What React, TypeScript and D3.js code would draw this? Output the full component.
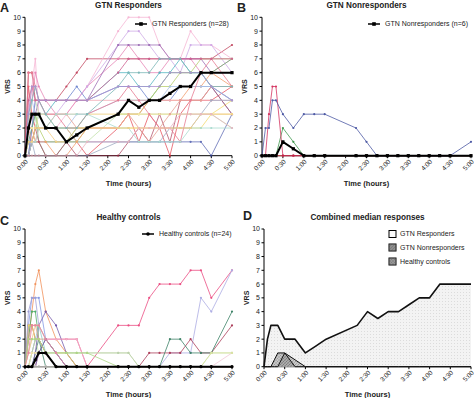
import React from "react";
import * as d3 from "d3";

/* sampling times in minutes */
const times = [0, 5, 10, 15, 20, 30, 45, 60, 75, 90, 135, 150, 165, 180, 195, 210, 225, 240, 255, 270, 300];
const tickMinutes = [0, 30, 60, 90, 120, 150, 180, 210, 240, 270, 300];
const tickLabels = ["0:00", "0:30", "1:00", "1:30", "2:00", "2:30", "3:00", "3:30", "4:00", "4:30", "5:00"];
const vrsTicks = [0, 1, 2, 3, 4, 5, 6, 7, 8, 9, 10];

/* A - GTN responders, one row per patient */
const responderColors = [
  "#b01030", "#e02030", "#f4a0c8", "#e060a0", "#c090e0", "#8040a0", "#20a0b0",
  "#4060c0", "#3040a0", "#f0d040", "#f0b080", "#b0d890", "#40a050", "#a0c040",
  "#f08040", "#a02040", "#90b0e0", "#f090a0", "#f0e890", "#e08070", "#8090b0",
  "#e05070", "#c03070", "#90d0c0", "#f0c060", "#e0a0b0", "#50a0a0", "#9070c0",
];
const responders = [
  [0, 6, 6, 4, 4, 4, 4, 5, 6, 7, 7, 7, 7, 7, 7, 7, 7, 7, 7, 7, 8],
  [0, 5, 3, 2, 2, 2, 2, 2, 1, 0, 2, 3, 1, 3, 2, 0, 3, 4, 4, 4, 5],
  [0, 3, 5, 7, 3, 2, 2, 3, 4, 5, 9, 10, 10, 10, 8, 7, 7, 9, 8, 8, 7],
  [0, 2, 4, 6, 5, 4, 3, 3, 4, 5, 7, 8, 7, 6, 6, 7, 7, 7, 6, 6, 7],
  [0, 1, 2, 4, 4, 3, 3, 4, 4, 5, 8, 9, 9, 8, 7, 7, 6, 8, 8, 8, 6],
  [0, 0, 2, 3, 4, 4, 4, 4, 4, 4, 8, 8, 8, 8, 8, 7, 7, 7, 7, 6, 6],
  [0, 0, 1, 2, 3, 3, 4, 4, 4, 4, 6, 6, 5, 5, 6, 6, 7, 6, 6, 5, 4],
  [0, 0, 2, 4, 4, 4, 4, 4, 5, 4, 5, 5, 5, 4, 4, 4, 5, 5, 5, 5, 3],
  [0, 0, 1, 1, 1, 1, 1, 1, 1, 1, 1, 1, 1, 1, 1, 1, 1, 1, 1, 0, 3],
  [0, 1, 1, 2, 2, 2, 2, 2, 2, 2, 2, 2, 2, 2, 2, 2, 2, 2, 2, 3, 4],
  [0, 3, 3, 3, 3, 3, 3, 3, 3, 3, 3, 3, 3, 3, 3, 3, 3, 3, 3, 3, 3],
  [0, 2, 4, 4, 3, 2, 2, 2, 1, 1, 3, 3, 3, 3, 3, 3, 3, 3, 3, 3, 2],
  [0, 1, 2, 3, 1, 0, 0, 1, 2, 2, 3, 4, 4, 4, 5, 6, 6, 6, 6, 6, 7],
  [0, 2, 3, 3, 2, 1, 1, 1, 1, 2, 3, 3, 3, 4, 5, 5, 6, 6, 7, 7, 7],
  [0, 2, 2, 1, 1, 1, 0, 0, 1, 2, 2, 3, 3, 4, 4, 4, 4, 5, 5, 6, 5],
  [0, 0, 1, 2, 1, 0, 0, 1, 0, 0, 0, 1, 2, 1, 3, 1, 4, 4, 4, 5, 3],
  [0, 3, 4, 3, 3, 3, 2, 2, 3, 3, 4, 4, 4, 4, 4, 5, 5, 5, 5, 5, 4],
  [0, 4, 4, 4, 4, 4, 4, 4, 4, 4, 4, 4, 4, 4, 4, 4, 4, 4, 4, 4, 4],
  [0, 2, 2, 2, 3, 3, 2, 2, 2, 3, 3, 3, 3, 3, 3, 3, 3, 3, 3, 3, 3],
  [0, 2, 1, 1, 2, 2, 3, 3, 2, 2, 2, 3, 2, 1, 2, 3, 4, 4, 4, 5, 5],
  [0, 1, 1, 0, 0, 0, 0, 0, 0, 0, 1, 1, 1, 1, 1, 2, 2, 2, 3, 4, 4],
  [0, 6, 6, 5, 4, 3, 3, 2, 2, 3, 4, 5, 4, 3, 2, 2, 1, 4, 6, 7, 5],
  [0, 4, 5, 4, 4, 4, 4, 4, 4, 4, 6, 7, 7, 7, 7, 7, 7, 7, 7, 7, 7],
  [0, 0, 1, 1, 2, 2, 3, 3, 3, 3, 2, 2, 1, 1, 1, 1, 1, 2, 2, 2, 2],
  [0, 1, 1, 2, 2, 2, 1, 1, 2, 2, 2, 2, 2, 2, 2, 2, 2, 2, 3, 3, 3],
  [0, 0, 0, 0, 0, 0, 0, 0, 0, 1, 1, 1, 2, 2, 2, 2, 3, 3, 3, 3, 2],
  [0, 3, 4, 5, 4, 3, 2, 2, 2, 3, 5, 6, 6, 6, 7, 7, 7, 6, 6, 5, 5],
  [0, 3, 5, 5, 4, 4, 4, 4, 4, 4, 5, 5, 5, 5, 5, 6, 6, 6, 6, 5, 4],
];
const responderMedian = [0, 2, 3, 3, 3, 2, 2, 1, 1.5, 2, 3, 4, 3.5, 4, 4, 4.5, 5, 5, 6, 6, 6];

/* B - GTN nonresponders */
const nonresponderColors = ["#c0c0c0", "#9090c0", "#e03020", "#309040", "#d02050", "#3c4a9c"];
const nonresponders = [
  [0, 0, 0, 0, 0, 0, 0, 0, 0, 0, 0, 0, 0, 0, 0, 0, 0, 0, 0, 0, 0],
  [0, 0, 0, 0, 0, 0, 0, 0, 0, 0, 0, 0, 0, 0, 0, 0, 0, 0, 0, 0, 0],
  [0, 0, 0, 0, 0, 0, 0, 0, 0, 0, 0, 0, 0, 0, 0, 0, 0, 0, 0, 0, 0],
  [0, 0, 0, 0, 0, 2, 1, 0, 0, 0, 0, 0, 0, 0, 0, 0, 0, 0, 0, 0, 0],
  [0, 0, 3, 5, 5, 0, 0, 0, 0, 0, 0, 0, 0, 0, 0, 0, 0, 0, 0, 0, 0],
  [0, 2, 2, 4, 4, 3, 2, 3, 3, 3, 2, 1, 0, 0, 0, 0, 0, 0, 0, 0, 1],
];
const nonresponderMedian = [0, 0, 0, 0, 0, 1, 0.5, 0, 0, 0, 0, 0, 0, 0, 0, 0, 0, 0, 0, 0, 0];

/* C - healthy controls */
const controlColors = [
  "#e8306e", "#a0a0e0", "#a02040", "#207050", "#c8e0a0", "#f08040", "#7088e0", "#6040a0",
  "#30a050", "#e8d040", "#f0a0c0", "#80c0c0", "#b0c8a0", "#e09080", "#9090d0", "#f0c080",
  "#4050a0", "#a0d070", "#f0e0a0", "#e07090", "#f0c0d0", "#d0e090", "#b0b0b0", "#c0c0c0",
];
const controls = [
  [0, 0, 0, 0, 1, 2, 2, 2, 2, 0, 3, 3, 3, 5, 6, 6, 6, 7, 7, 5, 7],
  [0, 0, 0, 0, 0, 0, 0, 0, 0, 0, 0, 0, 0, 0, 0, 1, 1, 1, 5, 4, 7],
  [0, 3, 3, 2, 2, 1, 0, 0, 0, 0, 0, 0, 0, 1, 1, 1, 1, 2, 1, 1, 3],
  [0, 0, 0, 1, 2, 0, 0, 0, 0, 0, 0, 0, 0, 0, 0, 2, 2, 1, 1, 1, 4],
  [0, 1, 2, 2, 1, 1, 1, 1, 1, 1, 1, 1, 0, 0, 0, 0, 0, 0, 0, 1, 1],
  [0, 2, 4, 6, 7, 4, 2, 1, 0, 0, 0, 0, 0, 0, 0, 0, 0, 0, 0, 0, 0],
  [0, 3, 5, 5, 5, 2, 1, 0, 0, 0, 0, 0, 0, 0, 0, 0, 0, 0, 0, 0, 0],
  [0, 0, 0, 1, 3, 4, 3, 1, 0, 0, 0, 0, 0, 0, 0, 0, 0, 0, 0, 0, 0],
  [0, 2, 4, 4, 2, 1, 0, 0, 0, 0, 0, 0, 0, 0, 0, 0, 0, 0, 0, 0, 0],
  [0, 3, 3, 2, 2, 2, 1, 1, 0, 0, 0, 0, 0, 0, 0, 0, 0, 0, 0, 0, 0],
  [0, 1, 1, 2, 2, 2, 2, 2, 2, 0, 0, 0, 0, 0, 0, 0, 0, 0, 0, 0, 0],
  [0, 0, 1, 2, 3, 1, 0, 0, 0, 0, 0, 0, 0, 0, 0, 0, 0, 0, 0, 0, 0],
  [0, 0, 1, 2, 2, 1, 1, 1, 1, 1, 1, 1, 0, 0, 0, 0, 0, 0, 0, 0, 0],
  [0, 2, 3, 3, 2, 1, 0, 0, 0, 0, 0, 0, 0, 0, 0, 0, 0, 0, 0, 0, 0],
  [0, 4, 5, 5, 3, 2, 1, 0, 0, 0, 0, 0, 0, 0, 0, 0, 0, 0, 0, 0, 0],
  [0, 1, 2, 3, 3, 2, 1, 0, 0, 0, 0, 0, 0, 0, 0, 0, 0, 0, 0, 0, 0],
  [0, 0, 0, 0, 1, 2, 1, 0, 0, 0, 0, 0, 0, 0, 0, 0, 0, 0, 0, 0, 0],
  [0, 2, 2, 2, 2, 1, 1, 1, 1, 1, 0, 0, 0, 0, 0, 0, 0, 0, 0, 0, 0],
  [0, 0, 1, 1, 1, 1, 0, 0, 0, 0, 0, 0, 0, 0, 0, 0, 0, 0, 0, 0, 0],
  [0, 1, 3, 3, 3, 2, 1, 0, 0, 0, 0, 0, 0, 0, 0, 0, 0, 0, 0, 0, 0],
  [0, 0, 0, 0, 0, 0, 0, 0, 0, 0, 0, 0, 0, 0, 0, 0, 0, 0, 0, 0, 1],
  [0, 0, 0, 0, 0, 0, 0, 0, 0, 0, 0, 0, 0, 0, 0, 0, 0, 0, 0, 1, 1],
  [0, 0, 0, 0, 0, 0, 0, 0, 0, 0, 0, 0, 0, 0, 0, 0, 0, 0, 0, 0, 0],
  [0, 0, 0, 0, 0, 0, 0, 0, 0, 0, 0, 0, 0, 0, 0, 0, 0, 0, 0, 0, 0],
];
const controlMedian = [0, 0, 0, 0.5, 1, 1, 0, 0, 0, 0, 0, 0, 0, 0, 0, 0, 0, 0, 0, 0, 0];

const groupNames = ["GTN Responders", "GTN Nonresponders", "Healthy controls"];

const FONT = "'Liberation Sans', Arial, Helvetica, sans-serif";

type Box = { left: number; right: number; top: number; bottom: number };

const scales = (box: Box) => ({
  x: d3.scaleLinear().domain([0, 300]).range([box.left, box.right]),
  y: d3.scaleLinear().domain([0, 10]).range([box.bottom, box.top]),
});

const Axes = ({ box, letter, letterX, letterY, title }: any) => {
  const { x, y } = scales(box);
  const mid = (box.left + box.right) / 2;
  return (
    <g fontFamily={FONT} fill="#222">
      <text x={letterX} y={letterY} fontSize={12.5} fontWeight="bold">{letter}</text>
      <text x={mid} y={box.top - 9.5} fontSize={8.2} fontWeight="bold" textAnchor="middle">{title}</text>
      <line x1={box.left} x2={box.left} y1={box.top} y2={box.bottom} stroke="#000" strokeWidth={1} />
      <line x1={box.left} x2={box.right} y1={box.bottom} y2={box.bottom} stroke="#000" strokeWidth={1} />
      {vrsTicks.map((v) => (
        <g key={v}>
          <line x1={box.left - 2.5} x2={box.left} y1={y(v)} y2={y(v)} stroke="#000" />
          <text x={box.left - 4} y={y(v)} dy="0.35em" textAnchor="end" fontSize={7}>{v}</text>
        </g>
      ))}
      {tickMinutes.map((m, i) => (
        <g key={m}>
          <line x1={x(m)} x2={x(m)} y1={box.bottom} y2={box.bottom + 2.5} stroke="#000" />
          <text
            transform={`translate(${x(m) + 2},${box.bottom + 5}) rotate(-45)`}
            textAnchor="end"
            dy="0.3em"
            fontSize={6.5}
          >
            {tickLabels[i]}
          </text>
        </g>
      ))}
      <text
        transform={`translate(${box.left - 15},${(box.top + box.bottom) / 2}) rotate(-90)`}
        textAnchor="middle"
        fontSize={7}
        fontWeight="bold"
      >
        VRS
      </text>
      <text x={mid} y={box.bottom + 30.5} textAnchor="middle" fontSize={7.5} fontWeight="bold">
        Time (hours)
      </text>
    </g>
  );
};

const Marker = ({ cx, cy, shape, size }: any) =>
  shape === "square" ? (
    <rect x={cx - size / 2} y={cy - size / 2} width={size} height={size} fill="#000" />
  ) : (
    <circle cx={cx} cy={cy} r={size / 2} fill="#000" />
  );

const LinePanel = (props: any) => {
  const { box, series, colors, median, shape, legend, legendX, legendY, fade } = props;
  const { x, y } = scales(box);
  const line = d3
    .line<number>()
    .x((_, i) => x(times[i]))
    .y((d) => y(d));
  return (
    <g>
      <Axes {...props} />
      <g opacity={fade}>
        {series.map((s: number[], k: number) => (
          <g key={k}>
            <path d={line(s) || ""} fill="none" stroke={colors[k]} strokeWidth={0.8} />
            {s.map((v, i) => (
              <circle key={i} cx={x(times[i])} cy={y(v)} r={1.1} fill={colors[k]} />
            ))}
          </g>
        ))}
      </g>
      <path d={line(median) || ""} fill="none" stroke="#000" strokeWidth={2} strokeLinejoin="round" />
      {median.map((v: number, i: number) => (
        <Marker key={i} cx={x(times[i])} cy={y(v)} shape={shape} size={3.2} />
      ))}
      <g fontFamily={FONT}>
        <line x1={legendX} x2={legendX + 12} y1={legendY} y2={legendY} stroke="#000" strokeWidth={1.5} />
        <Marker cx={legendX + 6} cy={legendY} shape={shape} size={3.6} />
        <text x={legendX + 17} y={legendY} dy="0.35em" fontSize={7} fill="#222">{legend}</text>
      </g>
    </g>
  );
};

const CombinedPanel = (props: any) => {
  const { box } = props;
  const { x, y } = scales(box);
  const area = d3
    .area<number>()
    .x((_, i) => x(times[i]))
    .y0(y(0))
    .y1((d) => y(d));
  const line = d3
    .line<number>()
    .x((_, i) => x(times[i]))
    .y((d) => y(d));
  const fills = ["url(#dots)", "url(#hatch)", "url(#cross)"];
  const lx = box.left + 125;
  const ly = [box.top + 5, box.top + 18.5, box.top + 32.5];
  return (
    <g>
      <defs>
        <pattern id="dots" width="3" height="3" patternUnits="userSpaceOnUse">
          <rect width="3" height="3" fill="#f3f3f3" />
          <circle cx="1.5" cy="1.5" r="0.45" fill="#c4c4c4" />
        </pattern>
        <pattern id="hatch" width="3" height="3" patternUnits="userSpaceOnUse">
          <rect width="3" height="3" fill="rgba(120,120,120,0.35)" />
          <path d="M0,3 L3,0" stroke="rgba(60,60,60,0.35)" strokeWidth="0.6" />
        </pattern>
        <pattern id="cross" width="3" height="3" patternUnits="userSpaceOnUse">
          <rect width="3" height="3" fill="rgba(120,120,120,0.35)" />
          <path d="M0,3 L3,0 M0,0 L3,3" stroke="rgba(60,60,60,0.3)" strokeWidth="0.5" />
        </pattern>
      </defs>
      <Axes {...props} />
      <path d={area(responderMedian) || ""} fill={fills[0]} />
      <path d={area(controlMedian) || ""} fill={fills[2]} />
      <path d={area(nonresponderMedian) || ""} fill={fills[1]} />
      <path d={line(controlMedian) || ""} fill="none" stroke="#111" strokeWidth={1} />
      <path d={line(nonresponderMedian) || ""} fill="none" stroke="#111" strokeWidth={1} />
      <path d={line(responderMedian) || ""} fill="none" stroke="#111" strokeWidth={1.6} strokeLinejoin="round" />
      <g fontFamily={FONT}>
        {groupNames.map((name, i) => (
          <g key={name}>
            <rect
              x={lx}
              y={ly[i] - 3.5}
              width={7}
              height={7}
              fill={i === 0 ? "#fbfbfb" : i === 1 ? "#9a9a9a" : "#a8a8a8"}
              stroke="#000"
              strokeWidth={1}
            />
            {i > 0 && <rect x={lx} y={ly[i] - 3.5} width={7} height={7} fill={fills[i]} />}
            <text x={lx + 11} y={ly[i]} dy="0.35em" fontSize={7} fill="#222">{name}</text>
          </g>
        ))}
      </g>
    </g>
  );
};

const boxA = { left: 25, right: 232, top: 17.3, bottom: 155.7 };
const boxB = { left: 262, right: 471, top: 17.3, bottom: 155.7 };
const boxC = { left: 25, right: 232, top: 229, bottom: 366.7 };
const boxD = { left: 264, right: 471, top: 229, bottom: 366.7 };

export default function App() {
  return (
    <svg
      width={474}
      height={398}
      style={{ position: "absolute", left: 0, top: 0, background: "#fff" }}
    >
      <LinePanel
        box={boxA}
        letter="A"
        letterX={0}
        letterY={12}
        title="GTN Responders"
        series={responders}
        colors={responderColors}
        median={responderMedian}
        shape="square"
        legend="GTN Responders (n=28)"
        legendX={135}
        legendY={24}
        fade={0.75}
      />
      <LinePanel
        box={boxB}
        letter="B"
        letterX={237}
        letterY={12}
        title="GTN Nonresponders"
        series={nonresponders}
        colors={nonresponderColors}
        median={nonresponderMedian}
        shape="square"
        legend="GTN Nonresponders (n=6)"
        legendX={368}
        legendY={24}
        fade={0.9}
      />
      <LinePanel
        box={boxC}
        letter="C"
        letterX={0}
        letterY={225}
        title="Healthy controls"
        series={controls}
        colors={controlColors}
        median={controlMedian}
        shape="circle"
        legend="Healthy controls (n=24)"
        legendX={142}
        legendY={234}
        fade={0.85}
      />
      <CombinedPanel box={boxD} letter="D" letterX={243} letterY={220} title="Combined median responses" />
    </svg>
  );
}
